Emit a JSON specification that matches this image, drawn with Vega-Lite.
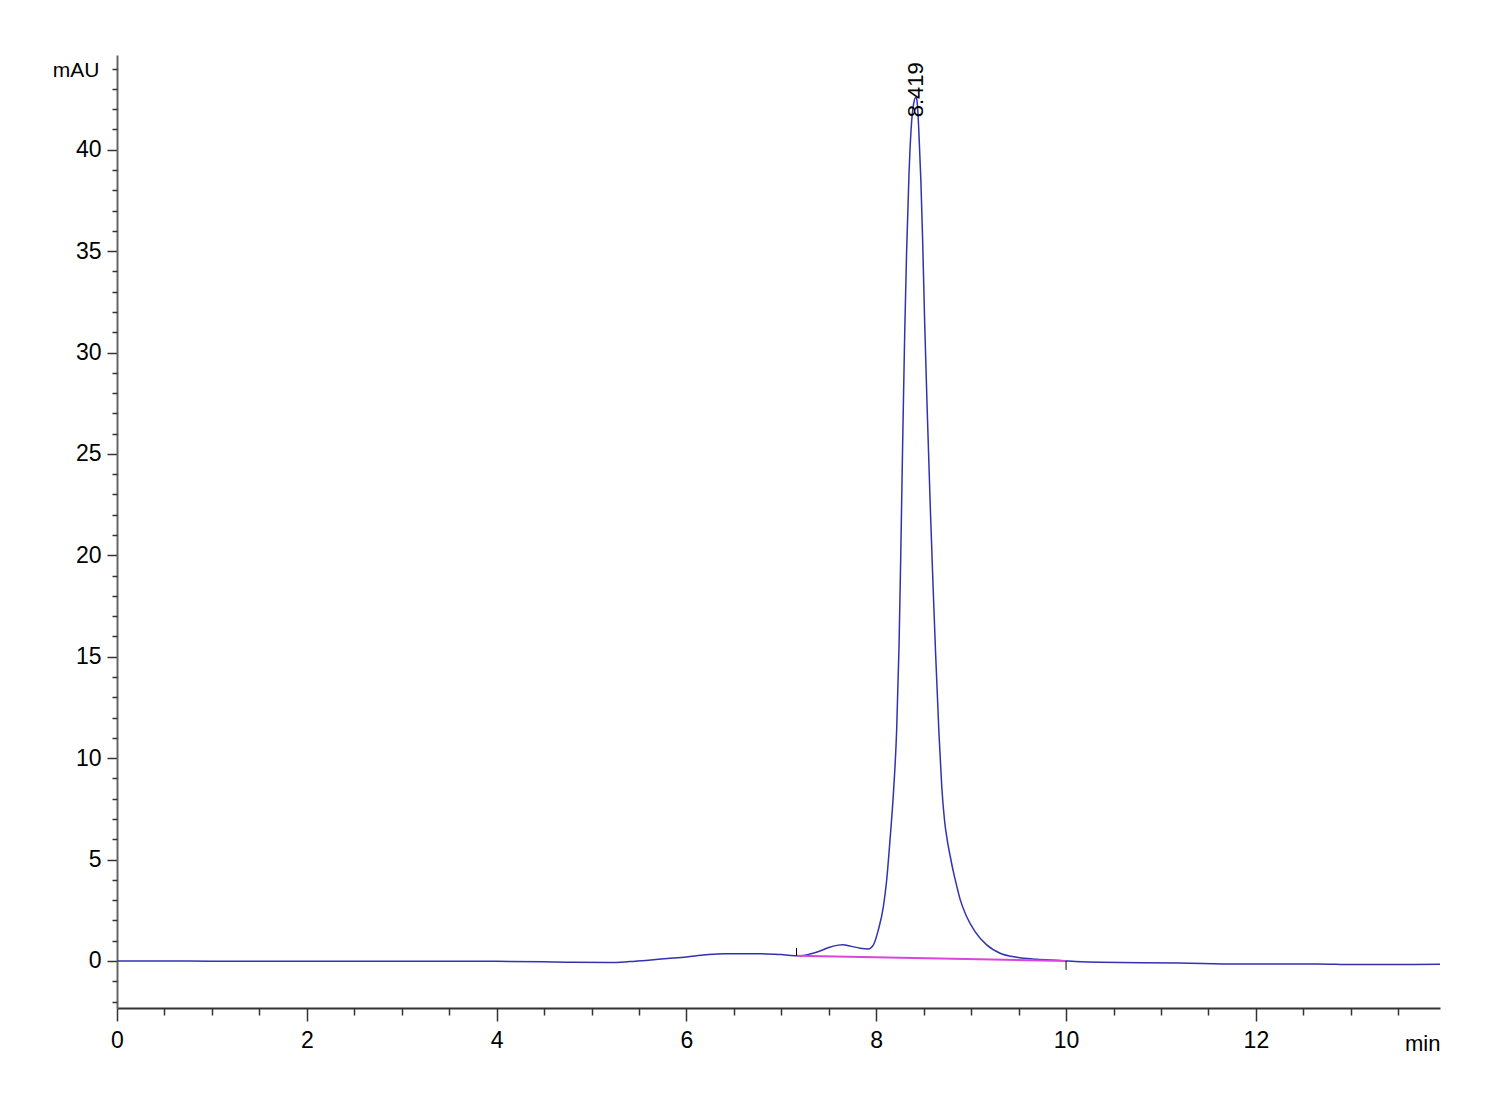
{
  "$schema": "https://vega.github.io/schema/vega-lite/v6.json",
  "autosize": {"type": "none"},
  "padding": {"left": 117, "top": 55, "right": 60, "bottom": 92},
  "width": 1323,
  "height": 953,
  "background": "white",
  "config": {"view": {"stroke": null}, "font": "Liberation Sans, Arial"},
  "datasets": {
    "signal": [
      {"t": 0, "mAU": 0.0}, {"t": 0.5, "mAU": 0.0}, {"t": 1.0, "mAU": -0.01}, {"t": 2.0, "mAU": -0.01},
      {"t": 3.0, "mAU": -0.01}, {"t": 4.0, "mAU": -0.02}, {"t": 4.5, "mAU": -0.04}, {"t": 4.8, "mAU": -0.07},
      {"t": 5.2, "mAU": -0.08}, {"t": 5.4, "mAU": -0.03}, {"t": 5.6, "mAU": 0.04}, {"t": 5.8, "mAU": 0.12},
      {"t": 6.0, "mAU": 0.2}, {"t": 6.2, "mAU": 0.3}, {"t": 6.4, "mAU": 0.36}, {"t": 6.6, "mAU": 0.36},
      {"t": 6.8, "mAU": 0.35}, {"t": 7.0, "mAU": 0.32}, {"t": 7.1, "mAU": 0.27}, {"t": 7.2, "mAU": 0.26},
      {"t": 7.3, "mAU": 0.34}, {"t": 7.4, "mAU": 0.48}, {"t": 7.5, "mAU": 0.66}, {"t": 7.6, "mAU": 0.78},
      {"t": 7.65, "mAU": 0.8}, {"t": 7.72, "mAU": 0.74}, {"t": 7.83, "mAU": 0.63}, {"t": 7.917, "mAU": 0.59},
      {"t": 7.97, "mAU": 0.79}, {"t": 8.022, "mAU": 1.53}, {"t": 8.075, "mAU": 2.68}, {"t": 8.11, "mAU": 3.99},
      {"t": 8.145, "mAU": 5.97}, {"t": 8.18, "mAU": 8.2}, {"t": 8.215, "mAU": 11.4}, {"t": 8.24, "mAU": 15.5},
      {"t": 8.26, "mAU": 20.5}, {"t": 8.28, "mAU": 26.0}, {"t": 8.3, "mAU": 31.0}, {"t": 8.32, "mAU": 35.0},
      {"t": 8.345, "mAU": 38.8}, {"t": 8.367, "mAU": 41.0}, {"t": 8.395, "mAU": 42.3}, {"t": 8.419, "mAU": 42.6},
      {"t": 8.432, "mAU": 42.3}, {"t": 8.448, "mAU": 41.0}, {"t": 8.47, "mAU": 38.5}, {"t": 8.489, "mAU": 35.5},
      {"t": 8.51, "mAU": 31.5}, {"t": 8.538, "mAU": 27.0}, {"t": 8.57, "mAU": 22.3}, {"t": 8.6, "mAU": 18.3},
      {"t": 8.625, "mAU": 15.2}, {"t": 8.661, "mAU": 11.2}, {"t": 8.69, "mAU": 8.6}, {"t": 8.72, "mAU": 6.9},
      {"t": 8.75, "mAU": 5.9}, {"t": 8.78, "mAU": 5.15}, {"t": 8.81, "mAU": 4.45}, {"t": 8.845, "mAU": 3.75},
      {"t": 8.883, "mAU": 3.05}, {"t": 8.953, "mAU": 2.18}, {"t": 9.041, "mAU": 1.45}, {"t": 9.164, "mAU": 0.79},
      {"t": 9.305, "mAU": 0.38}, {"t": 9.48, "mAU": 0.18}, {"t": 9.69, "mAU": 0.08}, {"t": 9.94, "mAU": 0.02},
      {"t": 10.1, "mAU": -0.03}, {"t": 10.36, "mAU": -0.07}, {"t": 11.2, "mAU": -0.1}, {"t": 11.8, "mAU": -0.15},
      {"t": 12.64, "mAU": -0.15}, {"t": 13.03, "mAU": -0.18}, {"t": 13.94, "mAU": -0.16}
    ],
    "baseline": [
      {"t": 7.16, "mAU": 0.26}, {"t": 10.0, "mAU": 0.0}
    ],
    "marks": [
      {"t": 7.16, "y1": 0.26, "y2": 0.64},
      {"t": 10.0, "y1": 0.0, "y2": -0.44}
    ],
    "label": [
      {"t": 8.419, "mAU": 41.6, "text": "8.419"}
    ]
  },
  "resolve": {"axis": {"x": "independent", "y": "independent"}},
  "layer": [
    {
      "data": {"name": "signal"},
      "mark": {"type": "line", "color": "#3232b0", "strokeWidth": 1.5, "interpolate": "monotone", "clip": true},
      "encoding": {
        "x": {"field": "t", "type": "quantitative",
          "scale": {"domain": [0, 13.94], "nice": false, "zero": false},
          "axis": {"orient": "bottom", "values": [0, 2, 4, 6, 8, 10, 12], "grid": false,
            "domainColor": "#333333", "domainWidth": 2, "tickColor": "#333333", "tickWidth": 1.5, "tickSize": 13,
            "labelFontSize": 23, "labelColor": "#000000", "labelPadding": 8, "labelFlush": false,
            "title": "min", "titleFontSize": 22, "titleFontWeight": "normal", "titleColor": "#000000",
            "titleX": 1323, "titleY": 42, "titleAlign": "right", "titleBaseline": "alphabetic", "titleAnchor": null}},
        "y": {"field": "mAU", "type": "quantitative",
          "scale": {"domain": [-2.32, 44.67], "nice": false, "zero": false},
          "axis": {"orient": "left", "values": [0, 5, 10, 15, 20, 25, 30, 35, 40], "grid": false,
            "domainColor": "#666666", "domainWidth": 2, "tickColor": "#333333", "tickWidth": 1.5, "tickSize": 10,
            "labelFontSize": 23, "labelColor": "#000000", "labelPadding": 6, "labelFlush": false,
            "title": "mAU", "titleFontSize": 21, "titleFontWeight": "normal", "titleColor": "#000000",
            "titleAngle": 0, "titleX": -18, "titleY": 15, "titleAlign": "right", "titleBaseline": "middle", "titleAnchor": null}}
      }
    },
    {
      "data": {"name": "baseline"},
      "mark": {"type": "line", "color": "#dd44dd", "strokeWidth": 2},
      "encoding": {
        "x": {"field": "t", "type": "quantitative",
          "axis": {"orient": "bottom", "values": [0.5, 1, 1.5, 2.5, 3, 3.5, 4.5, 5, 5.5, 6.5, 7, 7.5, 8.5, 9, 9.5, 10.5, 11, 11.5, 12.5, 13, 13.5],
            "labels": false, "domain": false, "grid": false, "title": null,
            "tickColor": "#333333", "tickWidth": 1.5, "tickSize": 7}},
        "y": {"field": "mAU", "type": "quantitative",
          "axis": {"orient": "left", "values": [-2, -1, 1, 2, 3, 4, 6, 7, 8, 9, 11, 12, 13, 14, 16, 17, 18, 19, 21, 22, 23, 24, 26, 27, 28, 29, 31, 32, 33, 34, 36, 37, 38, 39, 41, 42, 43, 44],
            "labels": false, "domain": false, "grid": false, "title": null,
            "tickColor": "#333333", "tickWidth": 1.5, "tickSize": 5}}
      }
    },
    {
      "data": {"name": "marks"},
      "mark": {"type": "rule", "color": "#000000", "strokeWidth": 1},
      "encoding": {
        "x": {"field": "t", "type": "quantitative", "axis": null},
        "y": {"field": "y1", "type": "quantitative", "axis": null},
        "y2": {"field": "y2"}
      }
    },
    {
      "data": {"name": "label"},
      "mark": {"type": "text", "angle": 270, "align": "left", "baseline": "middle", "fontSize": 22, "font": "Liberation Sans, Arial", "color": "#000000"},
      "encoding": {
        "x": {"field": "t", "type": "quantitative", "axis": null},
        "y": {"field": "mAU", "type": "quantitative", "axis": null},
        "text": {"field": "text"}
      }
    }
  ]
}
